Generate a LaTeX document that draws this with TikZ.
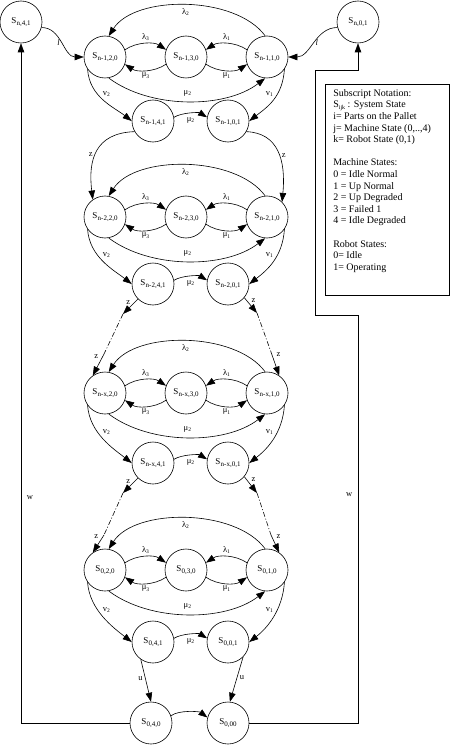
\documentclass[tikz,border=0pt]{standalone}
\usepackage{fontspec}
\setmainfont{Liberation Serif}
\usetikzlibrary{arrows.meta}
\newcommand\stt[1]{S\kern0.2pt\raisebox{-0.35ex}{\fontsize{7}{7}\selectfont #1}}
\newcommand\glab[2]{#1\raisebox{-0.3ex}{\fontsize{5.5}{5.5}\selectfont #2}}
\tikzset{
  st/.style={circle, draw, line width=0.6pt, minimum size=42pt, inner sep=0pt, font=\fontsize{9}{9}\selectfont},
  arr/.style={line width=0.6pt, -{Triangle[length=9pt,width=6.5pt]}},
  ln/.style={line width=0.6pt},
  dsh/.style={line width=0.6pt, dash pattern=on 5pt off 2pt on 1pt off 2pt},
  lab/.style={font=\fontsize{8.5}{8.5}\selectfont, inner sep=1.5pt}
}
\newcommand\stblock[4]{%
\node[st] (#1L) at (105,#3) {\stt{#2,2,0}};
\node[st] (#1M) at (186,#3) {\stt{#2,3,0}};
\node[st] (#1R) at (267,#3) {\stt{#2,1,0}};
\node[st] (#1P) at (153,#4) {\stt{#2,4,1}};
\node[st] (#1Q) at (228,#4) {\stt{#2,0,1}};
\draw[arr] (#1L.20) .. controls +(12,-8) and +(-12,-8) .. node[lab,above=1pt] {\glab{λ}{3}} (#1M.160);
\draw[arr] (#1M.200) .. controls +(-12,8) and +(12,8) .. node[lab,below=1pt] {\glab{μ}{3}} (#1L.340);
\draw[arr] (#1R.160) .. controls +(-12,-8) and +(12,-8) .. node[lab,above=1pt] {\glab{λ}{1}} (#1M.20);
\draw[arr] (#1M.340) .. controls +(12,8) and +(-12,8) .. node[lab,below=1pt] {\glab{μ}{1}} (#1R.200);
\draw[arr] (#1R.95) .. controls (235,#3-62) and (135,#3-62) .. node[lab,below=1pt] {\glab{λ}{2}} (#1L.80);
\draw[arr] (#1L.280) .. controls (150,#3+52) and (225,#3+52) .. node[lab,above=3pt] {\glab{μ}{2}} (#1R.265);
\draw[arr] (#1L.215) .. controls +(2,28) and +(-18,-14) .. node[lab,pos=0.45,above right] {\glab{v}{2}} (#1P.west);
\draw[arr] (#1R.325) .. controls +(-2,28) and +(18,-14) .. node[lab,pos=0.45,above left] {\glab{v}{1}} (#1Q.east);
\draw[arr] (#1P.10) .. controls +(8,-5) and +(-8,-5) .. node[lab,below=2pt] {\glab{μ}{2}} (#1Q.170);
}
\begin{document}
\begin{tikzpicture}[x=1pt,y=-1pt]
\useasboundingbox (0,0) rectangle (453,746);
% top states
\node[st] (nA) at (21,22) {\stt{n,4,1}};
\node[st] (nB) at (358,22) {\stt{n,0,1}};
% blocks
\stblock{a}{n-1}{57}{121}
\stblock{b}{n-2}{217}{284}
\stblock{c}{n-x}{393}{463}
\stblock{d}{0}{570}{642}
% bottom states
\node[st] (fP) at (151,723) {\stt{0,4,0}};
\node[st] (fQ) at (228,723) {\stt{0,00}};
% entry arrows
\draw[arr] (nA.345) to[out=0,in=180] node[lab,pos=0.5,left=1pt] {\textit{l}} (aL.west);
\draw[arr] (nB.195) to[out=180,in=0] node[lab,pos=0.5,right=1pt] {\textit{l}} (aR.east);
% z from block a to block b
\draw[arr] (aP.210) .. controls (95,133) and (88,160) .. node[lab,pos=0.55,left=1pt] {z} (bL.125);
\draw[arr] (aQ.330) .. controls (278,133) and (286,160) .. node[lab,pos=0.55,right=1pt] {z} (bR.45);
% z dashed b -> c
\coordinate (bz1) at (123,314);
\coordinate (bz2) at (104,354);
\coordinate (bw1) at (257,313);
\coordinate (bw2) at (271,352);
\draw[arr] (bP.225) -- node[lab,pos=0.2,left=3pt] {z} (bz1);
\draw[dsh] (bz1) -- (bz2);
\draw[arr] (bz2) -- node[lab,pos=0.1,left=3pt] {z} (cL.125);
\draw[arr] (bQ.320) -- node[lab,pos=0.2,right=3pt] {z} (bw1);
\draw[dsh] (bw1) -- (bw2);
\draw[arr] (bw2) -- node[lab,pos=0.1,right=3pt] {z} (cR.55);
% z dashed c -> d
\coordinate (cz1) at (123,493);
\coordinate (cz2) at (104,535);
\coordinate (cw1) at (257,493);
\coordinate (cw2) at (271,535);
\draw[arr] (cP.225) -- node[lab,pos=0.2,left=3pt] {z} (cz1);
\draw[dsh] (cz1) -- (cz2);
\draw[arr] (cz2) -- node[lab,pos=0.1,left=3pt] {z} (dL.125);
\draw[arr] (cQ.320) -- node[lab,pos=0.2,right=3pt] {z} (cw1);
\draw[dsh] (cw1) -- (cw2);
\draw[arr] (cw2) -- node[lab,pos=0.1,right=3pt] {z} (dR.55);
% bottom
\draw[arr] (dP.235) -- node[lab,pos=0.45,left=1pt] {u} (fP.north);
\draw[arr] (dQ.315) -- node[lab,pos=0.45,right=1pt] {u} (fQ.85);
\draw[arr] (fP.20) .. controls +(8,-6) and +(-8,-6) .. (fQ.165);
% feedback loops
\draw[arr] (fP.west) -| node[lab,pos=0.666,right=4pt] {w} (nA.south);
\coordinate (r1) at (358,315);
\coordinate (r2) at (315,70);
\draw[arr] (fQ.east) -| node[lab,pos=0.78,left=4pt] {w} (r1) -| (r2) -| (nB.south);
% legend
\node[draw, line width=0.6pt, anchor=north west, inner xsep=8pt, inner ysep=5pt,
      font=\fontsize{10}{11.6}\selectfont] (leg) at (325,84)
{\parbox[t][201pt][t]{108pt}{\raggedright
Subscript Notation:\\
S\raisebox{-0.35ex}{\fontsize{6}{6}\selectfont ijk} : System State\\
i= Parts on the Pallet\\
j= Machine State (0,..,4)\\
k= Robot State (0,1)\\
\mbox{}\\
Machine States:\\
0 = Idle Normal\\
1 = Up Normal\\
2 = Up Degraded\\
3 = Failed 1\\
4 = Idle Degraded\\
\mbox{}\\
Robot States:\\
0= Idle\\
1= Operating}};
\end{tikzpicture}
\end{document}
